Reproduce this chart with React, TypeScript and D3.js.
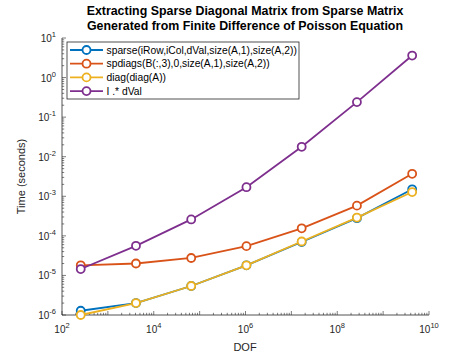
import React from "react";
import * as d3 from "d3";

const dof = [256, 4096, 65536, 1048576, 16777216, 268435456, 4294967296];
const seriesNames = [
  "sparse(iRow,iCol,dVal,size(A,1),size(A,2))",
  "spdiags(B(:,3),0,size(A,1),size(A,2))",
  "diag(diag(A))",
  "I .* dVal",
];
const sparseTimes = [1.28e-6, 2.0e-6, 5.4e-6, 1.8e-5, 7.0e-5, 2.8e-4, 1.5e-3];
const spdiagsTimes = [1.8e-5, 2.0e-5, 2.76e-5, 5.5e-5, 1.55e-4, 5.8e-4, 3.7e-3];
const diagTimes = [1.0e-6, 2.0e-6, 5.4e-6, 1.8e-5, 7.2e-5, 2.9e-4, 1.28e-3];
const multTimes = [1.45e-5, 5.6e-5, 2.6e-4, 1.7e-3, 0.0178, 0.24, 3.6];
const colors = ["#0072BD", "#D95319", "#EDB120", "#7E2F8E"];
const xTickExps = [2, 4, 6, 8, 10];
const yTickExps = [1, 0, -1, -2, -3, -4, -5, -6];
const titleLines = [
  "Extracting Sparse Diagonal Matrix from Sparse Matrix",
  "Generated from Finite Difference of Poisson Equation",
];

const W = 474;
const H = 355;
const L = 62, R = 429, T = 38, B = 315;
const font = "'Liberation Sans', Arial, Helvetica, sans-serif";

export default function App() {
  const x = d3.scaleLog().domain([1e2, 1e10]).range([L, R]);
  const y = d3.scaleLog().domain([1e-6, 1e1]).range([B, T]);
  const all = [sparseTimes, spdiagsTimes, diagTimes, multTimes];
  const line = d3
    .line<[number, number]>()
    .x((d) => x(d[0]))
    .y((d) => y(d[1]));

  const xMinor: number[] = [];
  for (let e = 2; e < 10; e++) for (let k = 1; k <= 9; k++) xMinor.push(k * Math.pow(10, e));
  xMinor.push(1e10);
  const yMinor: number[] = [];
  for (let e = -6; e < 1; e++) for (let k = 1; k <= 9; k++) yMinor.push(k * Math.pow(10, e));
  yMinor.push(10);

  const legX = 67, legY = 42, legW = 232, legH = 57;
  const rowH = 13.7;

  return (
    <svg width={W} height={H} style={{ position: "absolute", left: 0, top: 0, background: "#fff" }} fontFamily={font}>
      <rect x={0} y={0} width={W} height={H} fill="#fff" />
      {titleLines.map((t, i) => (
        <text key={i} x={245} y={14.5 + i * 15} textAnchor="middle" fontSize={12.4} fontWeight="bold" fill="#000">
          {t}
        </text>
      ))}
      {/* axes */}
      <line x1={L} y1={T} x2={L} y2={B} stroke="#262626" strokeWidth={0.8} />
      <line x1={L} y1={B} x2={R} y2={B} stroke="#262626" strokeWidth={0.8} />
      {xMinor.map((v, i) => {
        const isMajor = Math.abs(Math.log10(v) - Math.round(Math.log10(v))) < 1e-9;
        const len = isMajor ? 4 : 2.2;
        return <line key={"xm" + i} x1={x(v)} x2={x(v)} y1={B} y2={B - len} stroke="#262626" strokeWidth={0.6} />;
      })}
      {yMinor.map((v, i) => {
        const isMajor = Math.abs(Math.log10(v) - Math.round(Math.log10(v))) < 1e-9;
        const len = isMajor ? 4 : 2.2;
        return <line key={"ym" + i} x1={L} x2={L + len} y1={y(v)} y2={y(v)} stroke="#262626" strokeWidth={0.6} />;
      })}
      {xTickExps.map((e) => (
        <text key={"xt" + e} x={x(Math.pow(10, e))} y={333} textAnchor="middle" fontSize={10} fill="#262626">
          10<tspan dy={-5} fontSize={7.5}>{e}</tspan>
        </text>
      ))}
      {yTickExps.map((e) => (
        <text key={"yt" + e} x={56} y={y(Math.pow(10, e)) + 4} textAnchor="end" fontSize={10} fill="#262626">
          10<tspan dy={-5} fontSize={7.5}>{e}</tspan>
        </text>
      ))}
      <text x={245} y={351} textAnchor="middle" fontSize={11} fill="#262626">DOF</text>
      <text transform={`translate(25,${(T + B) / 2}) rotate(-90)`} textAnchor="middle" fontSize={11} fill="#262626">
        Time (seconds)
      </text>
      {/* series */}
      {all.map((s, si) => {
        const pts = dof.map((d, i) => [d, s[i]] as [number, number]);
        return (
          <g key={"s" + si}>
            <path d={line(pts) || ""} fill="none" stroke={colors[si]} strokeWidth={1.8} />
            {pts.map((p, i) => (
              <circle key={i} cx={x(p[0])} cy={y(p[1])} r={4} fill="#fff" stroke={colors[si]} strokeWidth={1.8} />
            ))}
          </g>
        );
      })}
      {/* legend */}
      <rect x={legX} y={legY} width={legW} height={legH} fill="#fff" stroke="#262626" strokeWidth={0.8} />
      {seriesNames.map((n, i) => {
        const cy = legY + 8 + i * rowH;
        return (
          <g key={"lg" + i}>
            <line x1={70} x2={103} y1={cy} y2={cy} stroke={colors[i]} strokeWidth={1.8} />
            <circle cx={86.5} cy={cy} r={4} fill="#fff" stroke={colors[i]} strokeWidth={1.8} />
            <text x={106.5} y={cy + 3.6} fontSize={10.3} fill="#000">{n}</text>
          </g>
        );
      })}
    </svg>
  );
}
